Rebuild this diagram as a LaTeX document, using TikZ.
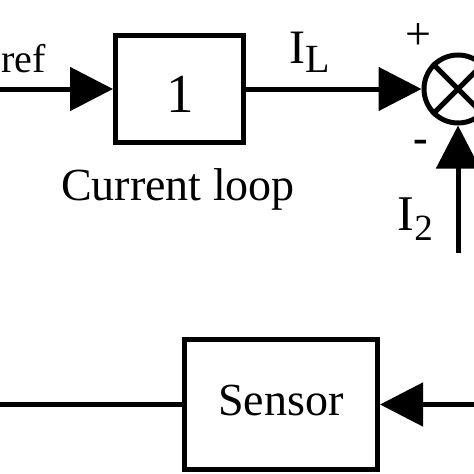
\documentclass[tikz,border=0pt]{standalone}
\usepackage{fontspec}
\setmainfont{Liberation Serif}
\usetikzlibrary{arrows.meta,positioning}
\tikzset{
  blk/.style={draw,rectangle,line width=5pt,inner sep=0pt},
  big/.style={font=\fontsize{46}{52}\selectfont,inner sep=0pt},
  sml/.style={font=\fontsize{40}{44}\selectfont,inner sep=0pt},
  wire/.style={line width=5pt},
  sig/.style={line width=5pt,-{Triangle[length=43pt,width=43pt]}}
}
\begin{document}
\begin{tikzpicture}[x=1pt,y=-1pt]
  \useasboundingbox (0,0) rectangle (474,474);
  %blocks
  \node[blk,minimum width=128pt,minimum height=107pt] (loop) at (179.5,89) {};
  \node[big,font=\fontsize{55}{58}\selectfont,anchor=base] (one) at (180,112) {1};
  \node[big,anchor=base] (looplbl) at (178,200) {Current loop};
  \node[draw,circle,line width=5pt,minimum size=68pt] (sum) at (458,89) {};
  \draw[wire] (sum.north west)--(sum.south east) (sum.north east)--(sum.south west);
  \node[blk,minimum width=193pt,minimum height=130pt] (sensor) at (281,404.5) {};
  \node[big,anchor=base] (sensorlbl) at (281,415) {Sensor};
  %signals
  \coordinate (in) at (0,89);
  \coordinate (fb) at (458,253);
  \coordinate (back) at (474,404.5);
  \coordinate (out) at (0,404.5);
  \draw[sig] (in)--(loop.west);
  \draw[sig] (loop.east)--(sum.west);
  \draw[sig] (fb)--(sum.south);
  \draw[sig] (back)--(sensor.east);
  \draw[wire] (sensor.west)--(out);
  %labels
  \node[sml,anchor=base west] (ref) at (1,72) {ref};
  \node[big,font=\fontsize{48}{52}\selectfont,anchor=base west] (il) at (289,63) {I};
  \node[sml,anchor=base west] (ilsub) at (il.base east) [yshift=-9pt] {L};
  \node[big,font=\fontsize{50}{54}\selectfont,anchor=base west] (itwo) at (397,230) {I};
  \node[sml,font=\fontsize{37}{40}\selectfont,anchor=base west] (itwosub) at (itwo.base east) [yshift=-10pt] {2};
  \node[big] (plus) at (418,37) {+};
  \node[big,font=\fontsize{44}{48}\bfseries] (minus) at (421,146) {-};
\end{tikzpicture}
\end{document}
